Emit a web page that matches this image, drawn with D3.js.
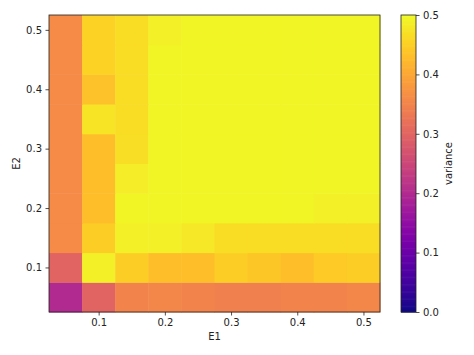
<!DOCTYPE html>
<html><head><meta charset="utf-8">
<script src="https://cdn.jsdelivr.net/npm/d3@7"></script>
<style>body{margin:0;background:#fff}text{font-family:"DejaVu Sans",sans-serif;font-size:10px;fill:#222}</style>
</head><body><svg id="c" width="474" height="355"></svg>
<script>
const e1 = [0.05,0.1,0.15,0.2,0.25,0.3,0.35,0.4,0.45,0.5];
const e2 = [0.05,0.1,0.15,0.2,0.25,0.3,0.35,0.4,0.45,0.5];
// rows by E2 (bottom to top), columns by E1
const variance = [
 [0.20,0.30,0.35,0.355,0.35,0.345,0.345,0.35,0.35,0.355],
 [0.30,0.49,0.45,0.43,0.43,0.45,0.44,0.43,0.445,0.45],
 [0.36,0.45,0.49,0.49,0.48,0.465,0.465,0.465,0.465,0.465],
 [0.36,0.43,0.495,0.495,0.495,0.495,0.495,0.495,0.49,0.49],
 [0.36,0.43,0.485,0.495,0.495,0.495,0.495,0.495,0.495,0.495],
 [0.36,0.43,0.47,0.495,0.495,0.495,0.495,0.495,0.495,0.495],
 [0.36,0.475,0.465,0.495,0.495,0.495,0.495,0.495,0.495,0.495],
 [0.36,0.435,0.465,0.495,0.495,0.495,0.495,0.495,0.495,0.495],
 [0.36,0.455,0.465,0.495,0.495,0.495,0.495,0.495,0.495,0.495],
 [0.36,0.455,0.465,0.49,0.495,0.495,0.495,0.495,0.495,0.495]
];
const xTicks = [0.1,0.2,0.3,0.4,0.5];
const yTicks = [0.1,0.2,0.3,0.4,0.5];
const cTicks = [0,0.1,0.2,0.3,0.4,0.5];

const svg = d3.select("#c");
const L=49,R=380,T=15,B=312;
const x = d3.scaleLinear().domain([0.025,0.525]).range([L,R]);
const y = d3.scaleLinear().domain([0.025,0.525]).range([B,T]);
const color = d3.scaleSequential(d3.interpolatePlasma).domain([0,0.5]);
const half = 0.025;

const cells = [];
variance.forEach((row,i)=>row.forEach((v,j)=>cells.push({x:e1[j],y:e2[i],v})));
svg.append("g").selectAll("rect").data(cells).join("rect")
  .attr("x",d=>x(d.x-half)).attr("y",d=>y(d.y+half))
  .attr("width",d=>x(d.x+half)-x(d.x-half)+0.5)
  .attr("height",d=>y(d.y-half)-y(d.y+half)+0.5)
  .attr("fill",d=>color(d.v));

svg.append("rect").attr("x",L).attr("y",T).attr("width",R-L).attr("height",B-T)
  .attr("fill","none").attr("stroke","#222").attr("stroke-width",0.8);

const xa = svg.append("g").attr("transform",`translate(0,${B})`)
  .call(d3.axisBottom(x).tickValues(xTicks).tickSize(3.5).tickPadding(3.5).tickFormat(d3.format(".1f")));
const ya = svg.append("g").attr("transform",`translate(${L},0)`)
  .call(d3.axisLeft(y).tickValues(yTicks).tickSize(3.5).tickPadding(3.5).tickFormat(d3.format(".1f")));
[xa,ya].forEach(a=>{a.select(".domain").remove();a.selectAll("line").attr("stroke","#222").attr("stroke-width",0.8);a.selectAll("text").style("font-size","10px").attr("fill","#222");});

svg.append("text").attr("x",(L+R)/2).attr("y",340).attr("text-anchor","middle").text("E1");
svg.append("text").attr("transform",`translate(20,${(T+B)/2}) rotate(-90)`).attr("text-anchor","middle").text("E2");

// colorbar
const CL=401,CR=416;
const cy = d3.scaleLinear().domain([0,0.5]).range([B,T]);
const steps = d3.range(0,0.5,0.5/256);
svg.append("g").selectAll("rect").data(steps).join("rect")
  .attr("x",CL).attr("width",CR-CL)
  .attr("y",d=>cy(d+0.5/256)).attr("height",d=>cy(d)-cy(d+0.5/256)+0.6)
  .attr("fill",d=>color(d+0.25/256));
svg.append("rect").attr("x",CL).attr("y",T).attr("width",CR-CL).attr("height",B-T)
  .attr("fill","none").attr("stroke","#222").attr("stroke-width",0.8);
const ca = svg.append("g").attr("transform",`translate(${CR},0)`)
  .call(d3.axisRight(cy).tickValues(cTicks).tickSize(3.5).tickPadding(3.5).tickFormat(d3.format(".1f")));
ca.select(".domain").remove();
ca.selectAll("line").attr("stroke","#222").attr("stroke-width",0.8);
ca.selectAll("text").style("font-size","10px").attr("fill","#222");
svg.append("text").attr("transform",`translate(452,${(T+B)/2}) rotate(-90)`).attr("text-anchor","middle").text("variance");
</script></body></html>
